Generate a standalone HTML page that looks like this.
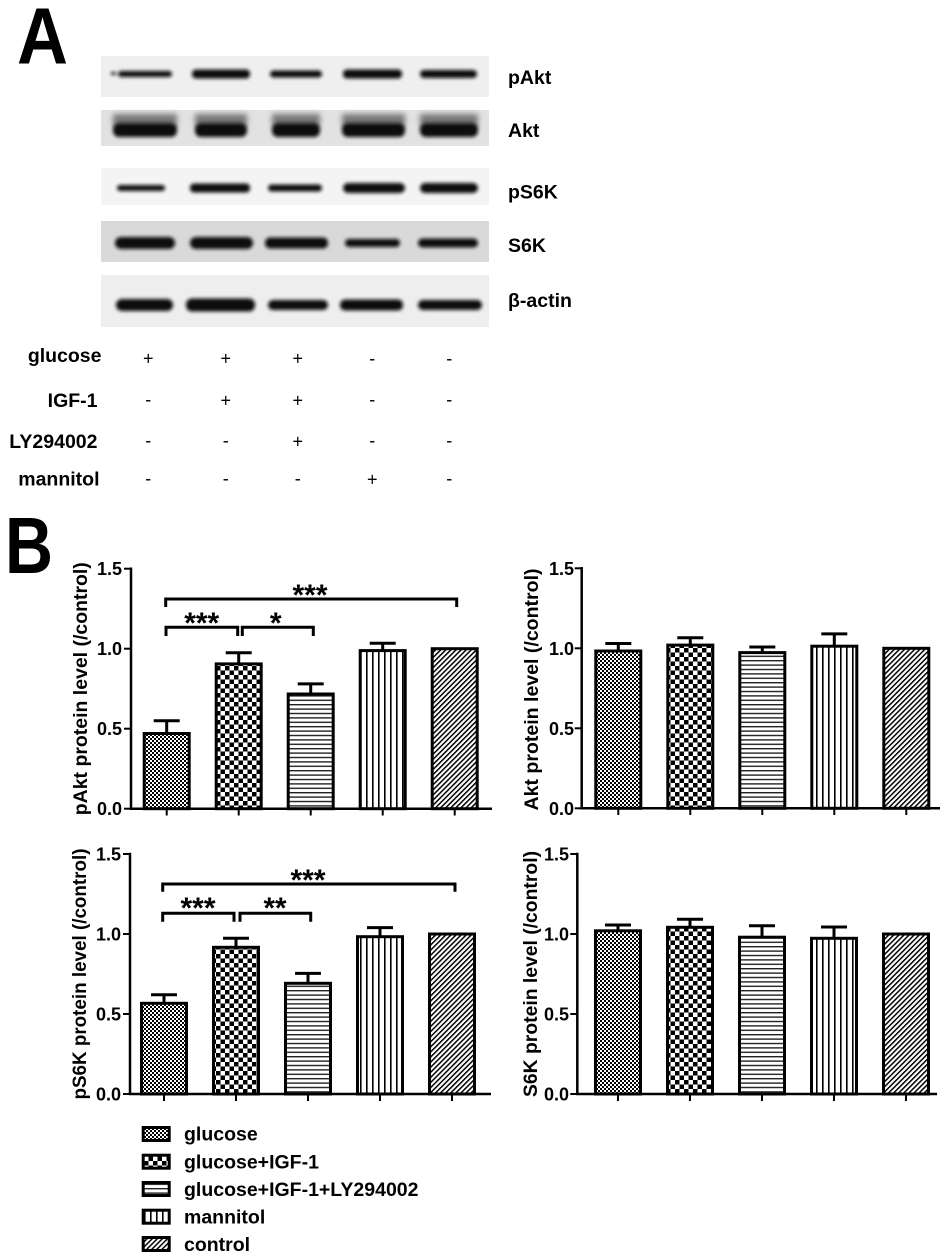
<!DOCTYPE html>
<html><head><meta charset="utf-8"><style>
html,body{margin:0;padding:0;background:#fff;}
svg{display:block;}
text{font-family:"Liberation Sans",Arial,sans-serif;font-weight:bold;fill:#000;}
</style></head><body>
<svg width="940" height="1255" viewBox="0 0 940 1255" xmlns="http://www.w3.org/2000/svg">
<defs>
<pattern id="p1" patternUnits="userSpaceOnUse" width="4" height="4"><rect width="4" height="4" fill="#fff"/><rect width="2" height="2" fill="#000"/><rect x="2" y="2" width="2" height="2" fill="#000"/></pattern>
<pattern id="p2" patternUnits="userSpaceOnUse" width="9" height="9"><rect width="9" height="9" fill="#fff"/><rect width="4.5" height="4.5" fill="#000"/><rect x="4.5" y="4.5" width="4.5" height="4.5" fill="#000"/></pattern>
<pattern id="p3" patternUnits="userSpaceOnUse" width="10" height="4.4"><rect width="10" height="4.4" fill="#fff"/><rect width="10" height="1.4" fill="#222"/></pattern>
<pattern id="p4" patternUnits="userSpaceOnUse" width="6" height="10"><rect width="6" height="10" fill="#fff"/><rect width="1.6" height="10" fill="#000"/></pattern>
<pattern id="p5" patternUnits="userSpaceOnUse" width="3.6" height="10" patternTransform="rotate(45)"><rect width="3.6" height="10" fill="#fff"/><rect width="1.5" height="10" fill="#000"/></pattern>
<filter id="bl" x="-20%" y="-100%" width="140%" height="300%"><feGaussianBlur stdDeviation="1.8"/></filter>
<filter id="bl2" x="-20%" y="-100%" width="140%" height="300%"><feGaussianBlur stdDeviation="3"/></filter>
</defs>

<!-- Panel A -->
<text x="17" y="63.5" font-size="80" textLength="51" lengthAdjust="spacingAndGlyphs">A</text>

<!-- strip 1 pAkt -->
<rect x="101" y="56" width="388" height="41" fill="#efefef"/>
<g filter="url(#bl)" fill="#111">
<rect x="118" y="71" width="54" height="6" rx="3"/>
<rect x="111" y="72" width="5" height="3" rx="1.5"/>
<rect x="192" y="69.5" width="58" height="9" rx="4"/>
<rect x="270" y="70.5" width="52" height="7" rx="3.5"/>
<rect x="343" y="69.5" width="59" height="9" rx="4"/>
<rect x="420" y="70" width="57" height="8" rx="4"/>
</g>
<!-- strip 2 Akt -->
<rect x="101" y="110" width="388" height="36" fill="#e2e2e2"/>
<g filter="url(#bl2)" fill="#777">
<rect x="113" y="114" width="64" height="12"/>
<rect x="195" y="114" width="52" height="12"/>
<rect x="272" y="114" width="48" height="12"/>
<rect x="342" y="114" width="63" height="12"/>
<rect x="420" y="114" width="58" height="12"/>
</g>
<g filter="url(#bl)" fill="#0c0c0c">
<rect x="113" y="123" width="64" height="14" rx="6"/>
<rect x="195" y="123" width="52" height="14" rx="6"/>
<rect x="272" y="123" width="48" height="14" rx="6"/>
<rect x="342" y="123" width="63" height="14" rx="6"/>
<rect x="420" y="123" width="58" height="14" rx="6"/>
</g>
<!-- strip 3 pS6K -->
<rect x="101" y="168" width="388" height="37" fill="#f4f4f4"/>
<g filter="url(#bl)" fill="#111">
<rect x="117" y="185" width="48" height="6" rx="3"/>
<rect x="190" y="183.5" width="60" height="9" rx="4"/>
<rect x="268" y="184.5" width="54" height="7" rx="3.5"/>
<rect x="343" y="183" width="62" height="10" rx="5"/>
<rect x="420" y="183" width="58" height="10" rx="5"/>
</g>
<!-- strip 4 S6K -->
<rect x="101" y="221" width="388" height="41" fill="#d9d9d9"/>
<g filter="url(#bl)" fill="#0c0c0c">
<rect x="115" y="237" width="60" height="12" rx="6"/>
<rect x="190" y="237" width="63" height="12" rx="6"/>
<rect x="265" y="237.5" width="63" height="11" rx="5"/>
<rect x="345" y="239" width="55" height="8" rx="4"/>
<rect x="418" y="238.5" width="60" height="9" rx="4.5"/>
</g>
<!-- strip 5 actin -->
<rect x="101" y="275" width="388" height="52" fill="#eeeeee"/>
<g filter="url(#bl)" fill="#0c0c0c">
<rect x="116" y="299" width="57" height="12" rx="6"/>
<rect x="186" y="298.5" width="69" height="13" rx="6"/>
<rect x="268" y="300" width="60" height="10" rx="5"/>
<rect x="340" y="299.5" width="63" height="11" rx="5"/>
<rect x="418" y="300" width="64" height="10" rx="5"/>
</g>

<g font-size="19.5">
<text x="508" y="84">pAkt</text>
<text x="508" y="137">Akt</text>
<text x="508" y="198.5">pS6K</text>
<text x="508" y="252">S6K</text>
<text x="508" y="307">β-actin</text>
</g>

<g font-size="19.5" text-anchor="end">
<text x="101.5" y="362">glucose</text>
<text x="97.5" y="407">IGF-1</text>
<text x="97.5" y="448">LY294002</text>
<text x="99.5" y="485.5">mannitol</text>
</g>
<g font-size="18" text-anchor="middle">
<text x="148.3" y="364.5" style="font-weight:normal">+</text>
<text x="225.7" y="364.5" style="font-weight:normal">+</text>
<text x="297.7" y="364.5" style="font-weight:normal">+</text>
<text x="372.3" y="364.5" style="font-weight:normal">-</text>
<text x="449.3" y="364.5" style="font-weight:normal">-</text>
<text x="148.3" y="405.5" style="font-weight:normal">-</text>
<text x="225.7" y="406.5" style="font-weight:normal">+</text>
<text x="297.7" y="406.5" style="font-weight:normal">+</text>
<text x="372.3" y="405.5" style="font-weight:normal">-</text>
<text x="449.3" y="405.5" style="font-weight:normal">-</text>
<text x="148.3" y="446.5" style="font-weight:normal">-</text>
<text x="225.7" y="446.5" style="font-weight:normal">-</text>
<text x="297.7" y="447.5" style="font-weight:normal">+</text>
<text x="372.3" y="446.5" style="font-weight:normal">-</text>
<text x="449.3" y="446.5" style="font-weight:normal">-</text>
<text x="148.3" y="484.5" style="font-weight:normal">-</text>
<text x="225.7" y="484.5" style="font-weight:normal">-</text>
<text x="297.7" y="484.5" style="font-weight:normal">-</text>
<text x="372.3" y="485.5" style="font-weight:normal">+</text>
<text x="449.3" y="484.5" style="font-weight:normal">-</text>
</g>

<!-- Panel B -->
<text x="5" y="573" font-size="80" textLength="48" lengthAdjust="spacingAndGlyphs">B</text>

<!-- ===== Top-left chart: pAkt ===== -->
<g stroke="#000" stroke-width="3" fill="none">
<line x1="166.7" y1="733.5" x2="166.7" y2="720.7"/><line x1="153.7" y1="720.7" x2="179.7" y2="720.7"/>
<line x1="238.7" y1="663.9" x2="238.7" y2="652.7"/><line x1="225.7" y1="652.7" x2="251.7" y2="652.7"/>
<line x1="310.7" y1="694" x2="310.7" y2="683.9"/><line x1="297.7" y1="683.9" x2="323.7" y2="683.9"/>
<line x1="382.7" y1="650.6" x2="382.7" y2="643.3"/><line x1="369.7" y1="643.3" x2="395.7" y2="643.3"/>
</g>
<g stroke="#000" stroke-width="3">
<rect x="144.2" y="733.5" width="45" height="75.2" fill="url(#p1)"/>
<rect x="216.2" y="663.9" width="45" height="144.8" fill="url(#p2)"/>
<rect x="288.2" y="694" width="45" height="114.7" fill="url(#p3)"/>
<rect x="360.2" y="650.6" width="45" height="158.1" fill="url(#p4)"/>
<rect x="432.2" y="648.7" width="45" height="160" fill="url(#p5)"/>
</g>
<g stroke="#000" stroke-width="2.5" fill="none">
<polyline points="131,567.5 131,808.7 492,808.7"/>
</g>
<g stroke="#000" stroke-width="2">
<line x1="124" y1="568.7" x2="131" y2="568.7"/><line x1="124" y1="648.7" x2="131" y2="648.7"/><line x1="124" y1="728.7" x2="131" y2="728.7"/><line x1="124" y1="808.7" x2="131" y2="808.7"/>
<line x1="166.7" y1="808.7" x2="166.7" y2="815.5"/><line x1="238.7" y1="808.7" x2="238.7" y2="815.5"/><line x1="310.7" y1="808.7" x2="310.7" y2="815.5"/><line x1="382.7" y1="808.7" x2="382.7" y2="815.5"/><line x1="454.7" y1="808.7" x2="454.7" y2="815.5"/>
</g>
<g font-size="18" text-anchor="end">
<text x="122" y="575.2">1.5</text><text x="122" y="655.2">1.0</text><text x="122" y="735.2">0.5</text><text x="122" y="815.2">0.0</text>
</g>
<text transform="translate(87,688.7) rotate(-90)" font-size="19" text-anchor="middle" textLength="253" lengthAdjust="spacingAndGlyphs">pAkt protein level (/control)</text>
<g stroke="#000" stroke-width="3" fill="none">
<polyline points="165.7,607 165.7,599 456.7,599 456.7,607"/>
<polyline points="166,636 166,627.3 237.7,627.3 237.7,636"/>
<polyline points="242.3,636 242.3,627.3 313.3,627.3 313.3,636"/>
</g>
<g font-size="30" text-anchor="middle">
<text x="310" y="605" textLength="35" lengthAdjust="spacingAndGlyphs">***</text>
<text x="201.7" y="633" textLength="35" lengthAdjust="spacingAndGlyphs">***</text>
<text x="275.7" y="633">*</text>
</g>

<!-- ===== Top-right chart: Akt ===== -->
<g stroke="#000" stroke-width="3" fill="none">
<line x1="618.3" y1="651" x2="618.3" y2="643.5"/><line x1="605.3" y1="643.5" x2="631.3" y2="643.5"/>
<line x1="690.3" y1="645.1" x2="690.3" y2="637.7"/><line x1="677.3" y1="637.7" x2="703.3" y2="637.7"/>
<line x1="762.3" y1="652.6" x2="762.3" y2="647"/><line x1="749.3" y1="647" x2="775.3" y2="647"/>
<line x1="834.3" y1="646.2" x2="834.3" y2="633.9"/><line x1="821.3" y1="633.9" x2="847.3" y2="633.9"/>
</g>
<g stroke="#000" stroke-width="3">
<rect x="595.8" y="651" width="45" height="157.3" fill="url(#p1)"/>
<rect x="667.8" y="645.1" width="45" height="163.2" fill="url(#p2)"/>
<rect x="739.8" y="652.6" width="45" height="155.7" fill="url(#p3)"/>
<rect x="811.8" y="646.2" width="45" height="162.1" fill="url(#p4)"/>
<rect x="883.8" y="648.3" width="45" height="160" fill="url(#p5)"/>
</g>
<g stroke="#000" stroke-width="2.5" fill="none">
<polyline points="581.7,567 581.7,808.3 940,808.3"/>
</g>
<g stroke="#000" stroke-width="2">
<line x1="574.7" y1="568.3" x2="581.7" y2="568.3"/><line x1="574.7" y1="648.3" x2="581.7" y2="648.3"/><line x1="574.7" y1="728.3" x2="581.7" y2="728.3"/><line x1="574.7" y1="808.3" x2="581.7" y2="808.3"/>
<line x1="618.3" y1="808.3" x2="618.3" y2="815"/><line x1="690.3" y1="808.3" x2="690.3" y2="815"/><line x1="762.3" y1="808.3" x2="762.3" y2="815"/><line x1="834.3" y1="808.3" x2="834.3" y2="815"/><line x1="906.3" y1="808.3" x2="906.3" y2="815"/>
</g>
<g font-size="18" text-anchor="end">
<text x="574" y="574.8">1.5</text><text x="574" y="654.8">1.0</text><text x="574" y="734.8">0.5</text><text x="574" y="814.8">0.0</text>
</g>
<text transform="translate(538,689.5) rotate(-90)" font-size="19" text-anchor="middle" textLength="242" lengthAdjust="spacingAndGlyphs">Akt protein level (/control)</text>

<!-- ===== Bottom-left chart: pS6K ===== -->
<g stroke="#000" stroke-width="3" fill="none">
<line x1="164" y1="1003.3" x2="164" y2="994.8"/><line x1="151" y1="994.8" x2="177" y2="994.8"/>
<line x1="236" y1="947.3" x2="236" y2="938.3"/><line x1="223" y1="938.3" x2="249" y2="938.3"/>
<line x1="308" y1="983.3" x2="308" y2="973.4"/><line x1="295" y1="973.4" x2="321" y2="973.4"/>
<line x1="380" y1="936.7" x2="380" y2="927.6"/><line x1="367" y1="927.6" x2="393" y2="927.6"/>
</g>
<g stroke="#000" stroke-width="3">
<rect x="141.5" y="1003.3" width="45" height="90.7" fill="url(#p1)"/>
<rect x="213.5" y="947.3" width="45" height="146.7" fill="url(#p2)"/>
<rect x="285.5" y="983.3" width="45" height="110.7" fill="url(#p3)"/>
<rect x="357.5" y="936.7" width="45" height="157.3" fill="url(#p4)"/>
<rect x="429.5" y="934" width="45" height="160" fill="url(#p5)"/>
</g>
<g stroke="#000" stroke-width="2.5" fill="none">
<polyline points="130,852.8 130,1094 491,1094"/>
</g>
<g stroke="#000" stroke-width="2">
<line x1="123" y1="854" x2="130" y2="854"/><line x1="123" y1="934" x2="130" y2="934"/><line x1="123" y1="1014" x2="130" y2="1014"/><line x1="123" y1="1094" x2="130" y2="1094"/>
<line x1="164" y1="1094" x2="164" y2="1101"/><line x1="236" y1="1094" x2="236" y2="1101"/><line x1="308" y1="1094" x2="308" y2="1101"/><line x1="380" y1="1094" x2="380" y2="1101"/><line x1="452" y1="1094" x2="452" y2="1101"/>
</g>
<g font-size="18" text-anchor="end">
<text x="121" y="860.5">1.5</text><text x="121" y="940.5">1.0</text><text x="121" y="1020.5">0.5</text><text x="121" y="1100.5">0.0</text>
</g>
<text transform="translate(86,974) rotate(-90)" font-size="19" text-anchor="middle" textLength="251" lengthAdjust="spacingAndGlyphs">pS6K protein level (/control)</text>
<g stroke="#000" stroke-width="3" fill="none">
<polyline points="162.7,891.7 162.7,884 455,884 455,891.7"/>
<polyline points="162.7,921.7 162.7,913.3 234,913.3 234,921.7"/>
<polyline points="240,921.7 240,913.3 310.7,913.3 310.7,921.7"/>
</g>
<g font-size="30" text-anchor="middle">
<text x="308" y="890" textLength="35" lengthAdjust="spacingAndGlyphs">***</text>
<text x="198" y="918" textLength="35" lengthAdjust="spacingAndGlyphs">***</text>
<text x="275" y="918" textLength="23" lengthAdjust="spacingAndGlyphs">**</text>
</g>

<!-- ===== Bottom-right chart: S6K ===== -->
<g stroke="#000" stroke-width="3" fill="none">
<line x1="618" y1="930.8" x2="618" y2="925"/><line x1="605" y1="925" x2="631" y2="925"/>
<line x1="690" y1="927.3" x2="690" y2="919.3"/><line x1="677" y1="919.3" x2="703" y2="919.3"/>
<line x1="762" y1="937.2" x2="762" y2="925.7"/><line x1="749" y1="925.7" x2="775" y2="925.7"/>
<line x1="834" y1="938.3" x2="834" y2="927"/><line x1="821" y1="927" x2="847" y2="927"/>
</g>
<g stroke="#000" stroke-width="3">
<rect x="595.5" y="930.8" width="45" height="163.2" fill="url(#p1)"/>
<rect x="667.5" y="927.3" width="45" height="166.7" fill="url(#p2)"/>
<rect x="739.5" y="937.2" width="45" height="156.8" fill="url(#p3)"/>
<rect x="811.5" y="938.3" width="45" height="155.7" fill="url(#p4)"/>
<rect x="883.5" y="934" width="45" height="160" fill="url(#p5)"/>
</g>
<g stroke="#000" stroke-width="2.5" fill="none">
<polyline points="577.3,852.8 577.3,1094 937,1094"/>
</g>
<g stroke="#000" stroke-width="2">
<line x1="570.3" y1="854" x2="577.3" y2="854"/><line x1="570.3" y1="934" x2="577.3" y2="934"/><line x1="570.3" y1="1014" x2="577.3" y2="1014"/><line x1="570.3" y1="1094" x2="577.3" y2="1094"/>
<line x1="618" y1="1094" x2="618" y2="1101"/><line x1="690" y1="1094" x2="690" y2="1101"/><line x1="762" y1="1094" x2="762" y2="1101"/><line x1="834" y1="1094" x2="834" y2="1101"/><line x1="906" y1="1094" x2="906" y2="1101"/>
</g>
<g font-size="18" text-anchor="end">
<text x="569" y="860.5">1.5</text><text x="569" y="940.5">1.0</text><text x="569" y="1020.5">0.5</text><text x="569" y="1100.5">0.0</text>
</g>
<text transform="translate(537,974) rotate(-90)" font-size="19" text-anchor="middle" textLength="246" lengthAdjust="spacingAndGlyphs">S6K protein level (/control)</text>

<!-- Legend -->
<g stroke="#000" stroke-width="3">
<rect x="143.2" y="1127.5" width="26" height="13" fill="url(#p1)"/>
<rect x="143.2" y="1155.2" width="26" height="13" fill="url(#p2)"/>
<rect x="143.2" y="1182.5" width="26" height="13" fill="url(#p3)"/>
<rect x="143.2" y="1210.2" width="26" height="13" fill="url(#p4)"/>
<rect x="143.2" y="1237.5" width="26" height="13" fill="url(#p5)"/>
</g>
<g font-size="19.5">
<text x="184" y="1140.5">glucose</text>
<text x="184" y="1168.3">glucose+IGF-1</text>
<text x="184" y="1195.8">glucose+IGF-1+LY294002</text>
<text x="184" y="1223.3">mannitol</text>
<text x="184" y="1250.8">control</text>
</g>
</svg>
</body></html>
